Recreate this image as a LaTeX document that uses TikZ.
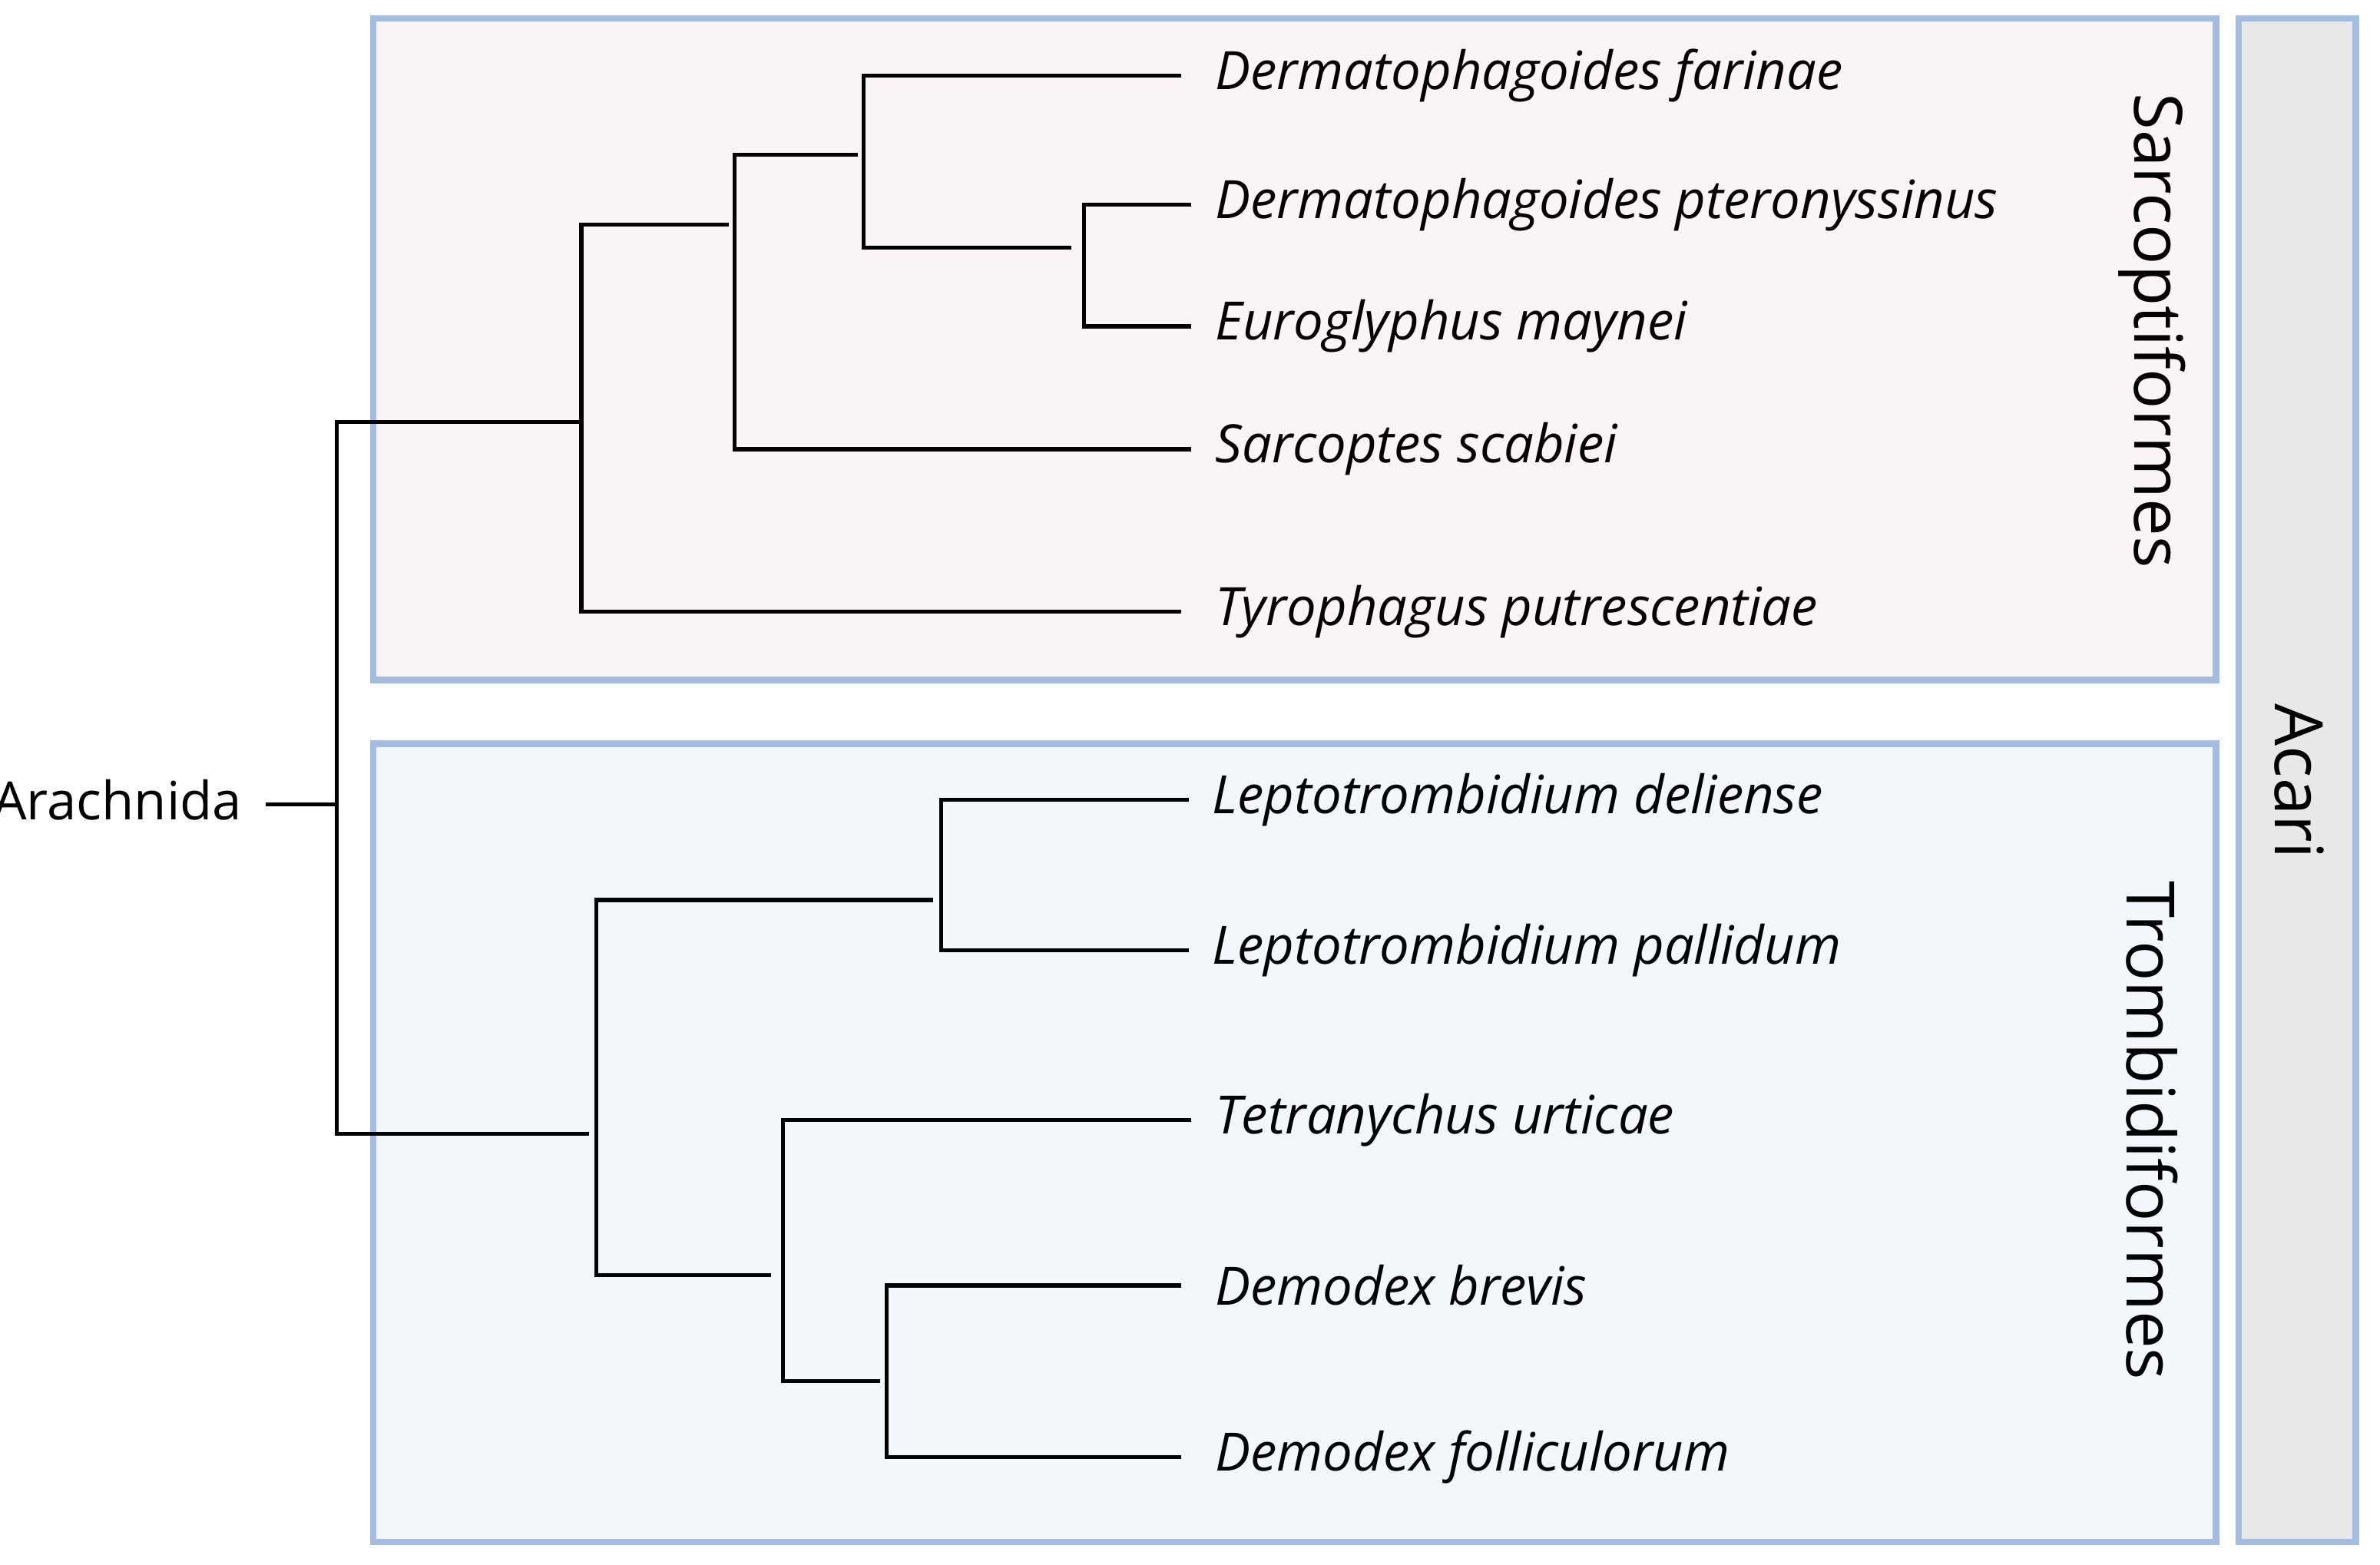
\documentclass[tikz,border=0pt]{standalone}
\usepackage{fontspec}
\setmainfont{Open Sans}
\definecolor{framecol}{RGB}{165,188,225}
\definecolor{sarcofill}{RGB}{250,243,247}
\definecolor{trombfill}{RGB}{243,247,251}
\definecolor{acarifill}{RGB}{232,232,232}
\tikzset{
  clade/.style={draw=framecol,line width=1.2pt},
  taxon/.style={anchor=west,inner sep=0pt,font=\fontsize{9.9}{11}\selectfont\itshape},
  group/.style={rotate=-90,inner sep=0pt,font=\fontsize{12.5}{14}\selectfont},
  branch/.style={line width=0.75pt}
}
\begin{document}
\begin{tikzpicture}[x=0.01cm,y=-0.01cm]
\useasboundingbox (0,0) rectangle (1568,1031);
% group boxes
\filldraw[clade,fill=sarcofill] (246,12) rectangle (1460,448);
\filldraw[clade,fill=trombfill] (246,490) rectangle (1460,1016);
\filldraw[clade,fill=acarifill] (1475,12) rectangle (1552,1016);
\node[group] (sarco) at (1418,218) {Sarcoptiformes};
\node[group] (tromb) at (1418,745) {Trombidiformes};
\node[group] (acari) at (1515,515) {Acari};
% leaves
\node[taxon] (dfar) at (800,50) {Dermatophagoides farinae};
\node[taxon] (dpte) at (800,135) {Dermatophagoides pteronyssinus};
\node[taxon] (emay) at (800,215) {Euroglyphus maynei};
\node[taxon] (ssca) at (800,296) {Sarcoptes scabiei};
\node[taxon] (tput) at (800,403) {Tyrophagus putrescentiae};
\node[taxon] (ldel) at (798,527) {Leptotrombidium deliense};
\node[taxon] (lpal) at (798,626) {Leptotrombidium pallidum};
\node[taxon] (turt) at (800,738) {Tetranychus urticae};
\node[taxon] (dbre) at (800,847) {Demodex brevis};
\node[taxon] (dfol) at (800,960) {Demodex folliculorum};
\node[anchor=east,inner sep=0pt,font=\fontsize{9.9}{11}\selectfont] (arach) at (160,527) {Arachnida};
% inner nodes
\coordinate (n1) at (714,174);
\coordinate (n2) at (569,110);
\coordinate (n3) at (484,200);
\coordinate (n4) at (383,278);
\coordinate (n5) at (620,583);
\coordinate (n6) at (584,906);
\coordinate (n7) at (516,823);
\coordinate (n8) at (393,716);
\coordinate (root) at (222,530);
% branches
\begin{scope}[branch]
\draw ([xshift=-0.15cm]dpte.west) -| (n1) |- ([xshift=-0.15cm]emay.west);
\draw ([xshift=-0.22cm]dfar.west) -| (n2) |- (706,163);
\draw (565,102) -| (n3) |- ([xshift=-0.15cm]ssca.west);
\draw (480,148) -| (n4) |- ([xshift=-0.22cm]tput.west);
\draw ([xshift=-0.15cm]ldel.west) -| (n5) |- ([xshift=-0.15cm]lpal.west);
\draw ([xshift=-0.22cm]dbre.west) -| (n6) |- ([xshift=-0.22cm]dfol.west);
\draw ([xshift=-0.15cm]turt.west) -| (n7) |- (580,910);
\draw (615,593) -| (n8) |- (508,840);
\draw (383,278) -| (root) |- (388,747);
\draw (root) -- ([xshift=0.15cm]arach.east |- root);
\end{scope}
\end{tikzpicture}
\end{document}
